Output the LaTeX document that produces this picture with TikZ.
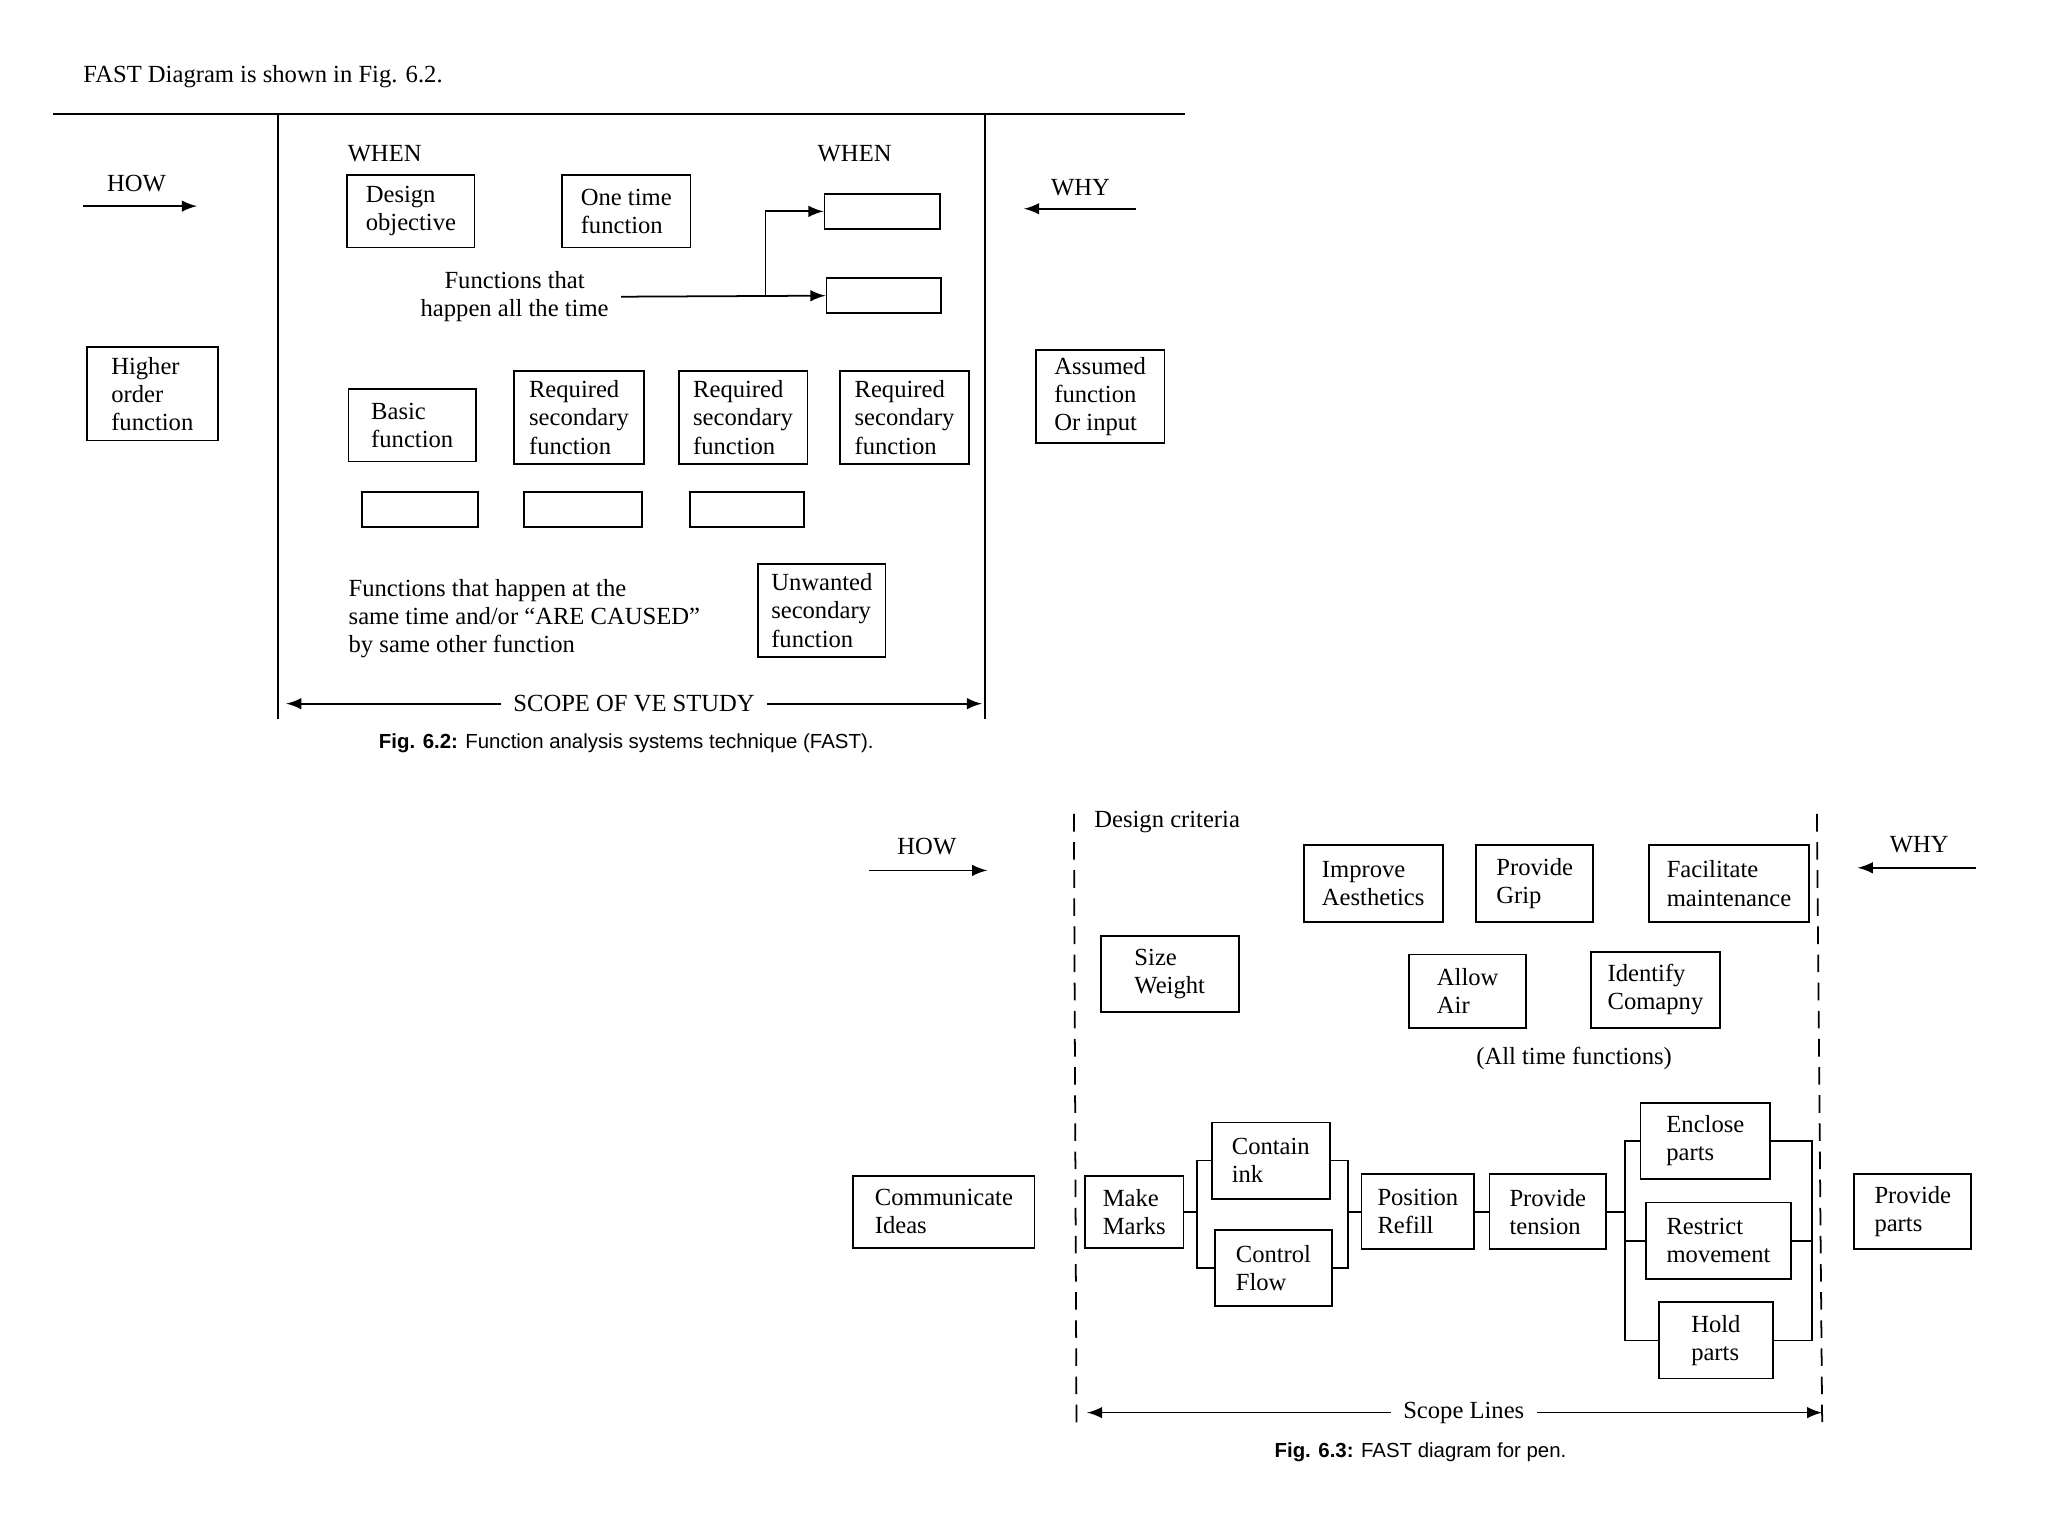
\documentclass[tikz,border=0pt]{standalone}
\usepackage{fontspec}
\setmainfont{Liberation Serif}
\newfontfamily\capfont{Liberation Sans}
\begin{document}
\begin{tikzpicture}[x=0.01313cm, y=-0.01313cm, font=\fontsize{7}{8}\selectfont, line width=0.5pt]
    \tikzstyle{box} = [draw, inner sep=2pt, align=left, minimum width=#1*0.01313cm]
    \tikzstyle{hbox} = [minimum height=#1*0.01313cm]
    \tikzstyle{arr} = [-latex]
    \useasboundingbox (0,0) rectangle (1560,1170);

    % Fig. 6.2
    \node [anchor=west] (title) at (54,58) {FAST Diagram is shown in Fig. 6.2.};
    \coordinate (tl) at (40,87);  \coordinate (tr) at (903,87);
    \coordinate (s1t) at (212,87); \coordinate (s1b) at (212,548);
    \coordinate (s2t) at (750,87); \coordinate (s2b) at (750,548);
    \draw (tl) -- (tr);
    \draw (s1t) -- (s1b);
    \draw (s2t) -- (s2b);

    \node (how1) at (104,140) {HOW};
    \coordinate (how1a) at (63,157); \coordinate (how1b) at (150,157);
    \draw [arr] (how1a) -- (how1b);
    \node (why1) at (823,143) {WHY};
    \coordinate (why1a) at (865,159); \coordinate (why1b) at (780,159);
    \draw [arr] (why1a) -- (why1b);
    \node (when1) at (293,117) {WHEN};
    \node (when2) at (651,117) {WHEN};

    \node [box=97, hbox=55] (design) at (313,161) {Design\\objective};
    \node [box=98, hbox=55] (onetime) at (477,161) {One time\\function};
    \node [box=88, hbox=27] (e1) at (672,161) {};
    \node [box=87, hbox=27] (e2) at (673,225) {};
    \node [align=center] (alltime) at (392,226) {Functions that\\happen all the time};
    \coordinate (fork) at (583,225);
    \draw [arr] (alltime.east) -- (e2);
    \draw [arr] (fork) |- (e1);

    \node [box=100, hbox=71] (higher) at (116,300) {Higher\\order\\function};
    \node [box=97, hbox=55] (basic) at (314,324) {Basic\\function};
    \node [box=99, hbox=71] (req1) at (441,318) {Required\\secondary\\function};
    \node [box=98, hbox=71] (req2) at (566,318) {Required\\secondary\\function};
    \node [box=98, hbox=71] (req3) at (689,318) {Required\\secondary\\function};
    \node [box=98, hbox=71] (assumed) at (838,302) {Assumed\\function\\Or input};

    \node [box=88, hbox=27] (b1) at (320,388) {};
    \node [box=90, hbox=27] (b2) at (444,388) {};
    \node [box=87, hbox=27] (b3) at (569,388) {};

    \node [anchor=west, align=left] (caused) at (256,471) {Functions that happen at the\\same time and/or ``ARE CAUSED''\\by same other function};
    \node [box=97, hbox=71] (unwanted) at (626,465) {Unwanted\\secondary\\function};

    \node (scope1) at (483,536) {SCOPE OF VE STUDY};
    \coordinate (sc1l) at (218,536); \coordinate (sc1r) at (748,536);
    \draw [arr] (scope1.west) -- (sc1l);
    \draw [arr] (scope1.east) -- (sc1r);
    \node [font=\capfont\fontsize{5.8}{7}\selectfont] (cap1) at (477,566) {\textbf{Fig. 6.2:} Function analysis systems technique (FAST).};

    % Fig. 6.3
    \coordinate (d1t) at (818,620); \coordinate (d1b) at (820,1088);
    \coordinate (d2t) at (1384,620); \coordinate (d2b) at (1388,1085);
    \draw [dashed, dash pattern=on 5pt off 3pt] (d1t) -- (d1b);
    \draw [dashed, dash pattern=on 5pt off 3pt] (d2t) -- (d2b);
    \node [anchor=west] (crit) at (824,626) {Design criteria};

    \node (how2) at (706,645) {HOW};
    \coordinate (how2a) at (662,663); \coordinate (how2b) at (752,663);
    \draw [arr] (how2a) -- (how2b);
    \node (why2) at (1462,643) {WHY};
    \coordinate (why2a) at (1505,661); \coordinate (why2b) at (1415,661);
    \draw [arr] (why2a) -- (why2b);

    \node [box=106, hbox=59] (improve) at (1046,673) {Improve\\Aesthetics};
    \node [box=89, hbox=59] (grip) at (1169,673) {Provide\\Grip};
    \node [box=122, hbox=59] (facil) at (1317,673) {Facilitate\\maintenance};
    \node [box=105, hbox=58] (size) at (891,742) {Size\\Weight};
    \node [box=89, hbox=56] (air) at (1118,755) {Allow\\Air};
    \node [box=98, hbox=58] (ident) at (1261,754) {Identify\\Comapny};
    \node (alltime2) at (1199,806) {(All time functions)};

    \node [box=138, hbox=55] (comm) at (719,923) {Communicate\\Ideas};
    \node [box=75, hbox=55] (make) at (864,923) {Make\\Marks};
    \node [box=90, hbox=58] (ink) at (968,884) {Contain\\ink};
    \node [box=89, hbox=58] (flow) at (970,966) {Control\\Flow};
    \node [box=86, hbox=57] (refill) at (1080,923) {Position\\Refill};
    \node [box=89, hbox=57] (tension) at (1179,923) {Provide\\tension};
    \node [box=99, hbox=58] (enclose) at (1299,869) {Enclose\\parts};
    \node [box=111, hbox=58] (restrict) at (1309,945) {Restrict\\movement};
    \node [box=87, hbox=58] (hold) at (1307,1021) {Hold\\parts};
    \node [box=89, hbox=57] (pparts) at (1457,923) {Provide\\parts};

    \coordinate (j1) at (912,923); \coordinate (j2) at (1027,923);
    \coordinate (j3) at (1238,923); \coordinate (j4) at (1380,923);
    \draw (make) -- (j1);
    \draw (ink.west) -| (j1) |- (flow.west);
    \draw (ink.east) -| (j2) |- (flow.east);
    \draw (j2) -- (refill);
    \draw (refill) -- (tension);
    \draw (tension) -- (j3);
    \draw (enclose.west) -| (j3) |- (hold.west);
    \draw (j3 |- restrict) -- (restrict.west);
    \draw (enclose.east) -| (j4) |- (hold.east);
    \draw (j4 |- restrict) -- (restrict.east);

    \node (scope2) at (1115,1076) {Scope Lines};
    \coordinate (sc2l) at (828,1076); \coordinate (sc2r) at (1388,1076);
    \draw [arr] (scope2.west) -- (sc2l);
    \draw [arr] (scope2.east) -- (sc2r);
    \node [font=\capfont\fontsize{5.8}{7}\selectfont] (cap2) at (1082,1106) {\textbf{Fig. 6.3:} FAST diagram for pen.};
\end{tikzpicture}
\end{document}
